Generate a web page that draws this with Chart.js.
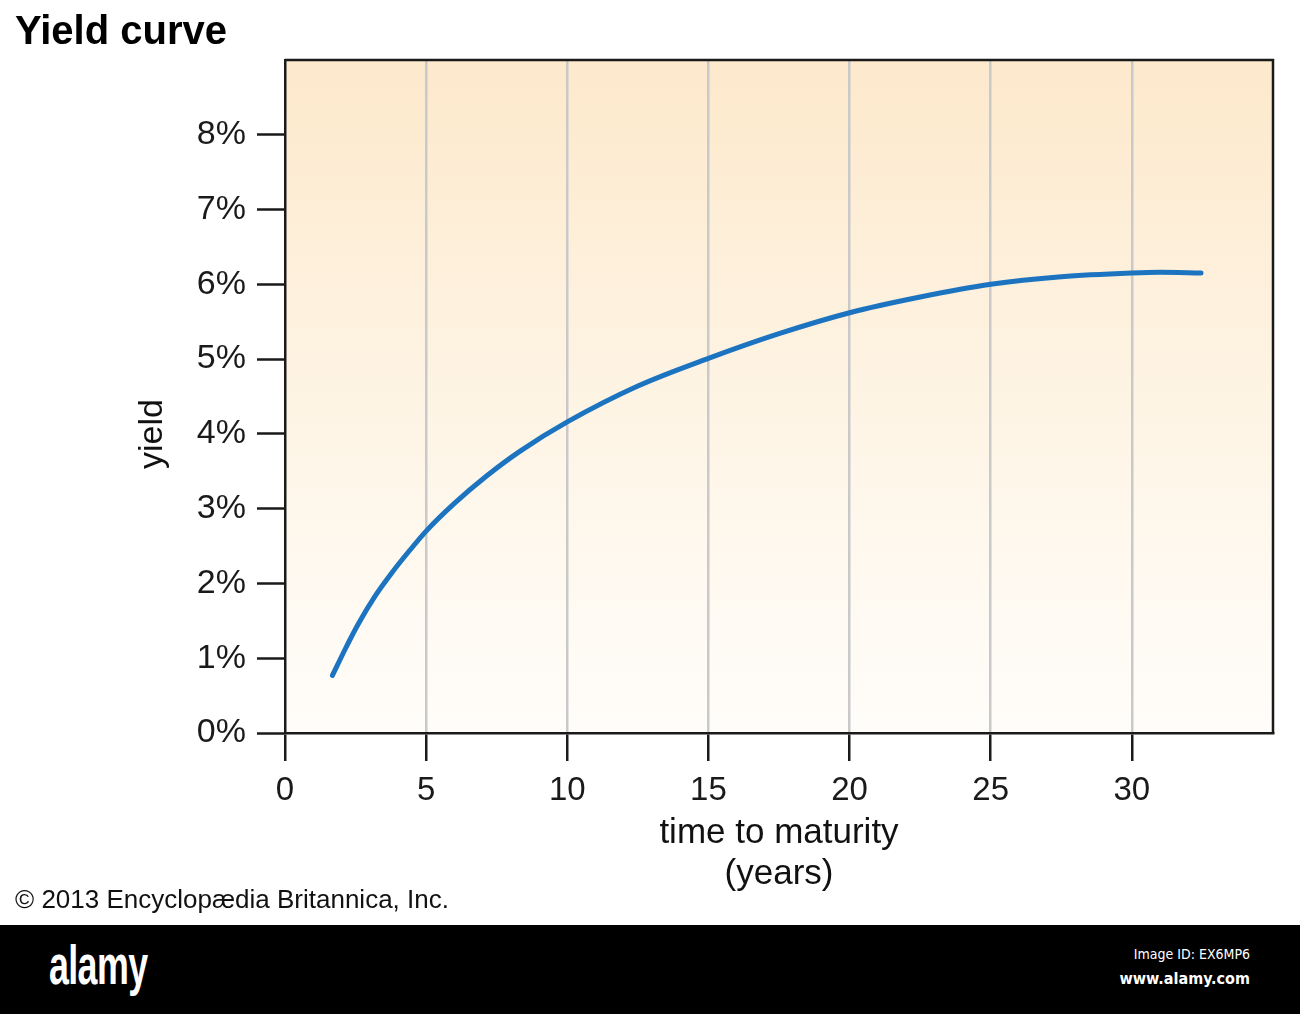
<!DOCTYPE html>
<html><head><meta charset="utf-8">
<script src="https://cdn.jsdelivr.net/npm/chart.js@4.4.1/dist/chart.umd.min.js"></script>
<style>
html,body{margin:0;padding:0;background:#fff;}
#wrap{position:relative;width:1300px;height:1014px;overflow:hidden;font-family:"Liberation Sans",Arial,sans-serif;}
#cbox{position:absolute;left:0;top:0;width:1300px;height:925px;}
#title{position:absolute;left:15px;top:10px;font-weight:bold;font-size:40px;line-height:1;color:#000;white-space:nowrap;}
#ytitle{position:absolute;left:100px;top:414px;width:100px;height:40px;line-height:40px;text-align:center;font-size:34px;color:#111;transform:rotate(-90deg);}
#copy{position:absolute;left:15px;top:886px;font-size:26px;line-height:1;color:#111;white-space:nowrap;}
#footer{position:absolute;left:0;top:925px;width:1300px;height:89px;background:#000;color:#fff;}
#logo{position:absolute;left:49px;top:12px;font-family:"Liberation Sans","DejaVu Sans",sans-serif;font-weight:bold;font-size:56px;line-height:1;transform:scaleX(0.64);transform-origin:left top;letter-spacing:-1px;}
#imgid{position:absolute;right:50px;top:22px;font-family:"DejaVu Sans Condensed",sans-serif;font-size:14px;line-height:1;}
#www{position:absolute;right:50px;top:46px;font-family:"DejaVu Sans Condensed",sans-serif;font-weight:bold;font-size:16px;line-height:1;}
</style></head>
<body>
<div id="wrap">
  <div id="cbox"><canvas id="c" width="1300" height="925"></canvas></div>
  <div id="title">Yield curve</div>
  <div id="ytitle">yield</div>
  <div id="copy">© 2013 Encyclopædia Britannica, Inc.</div>
  <div id="footer">
    <div id="logo">alamy</div>
    <div id="imgid">Image ID: EX6MP6</div>
    <div id="www">www.alamy.com</div>
  </div>
</div>
<script>
// ---- data ----
const maturityYears = [1.68, 2.13, 2.6, 3.19, 3.78, 4.37, 5, 6, 7.15, 8.33, 10, 12.5, 15, 17.5, 20, 22.5, 25, 27.5, 30, 31, 32.45];
const yieldPct      = [0.77, 1.12, 1.46, 1.83, 2.14, 2.42, 2.70, 3.07, 3.44, 3.77, 4.16, 4.64, 5.01, 5.34, 5.62, 5.83, 6.0, 6.1, 6.15, 6.16, 6.15];
const xTickValues = [0, 5, 10, 15, 20, 25, 30];
const yTickValues = [0, 1, 2, 3, 4, 5, 6, 7, 8];
const xAxisTitle = ['time to maturity', '(years)'];

Chart.defaults.font.family = "'Liberation Sans', Arial, sans-serif";

const bgPlugin = {
  id: 'bg',
  beforeDraw(chart) {
    const {ctx, chartArea: a} = chart;
    const g = ctx.createLinearGradient(0, a.top, 0, a.bottom);
    g.addColorStop(0, 'rgb(253,233,204)');
    g.addColorStop(0.5, 'rgb(254,244,228)');
    g.addColorStop(1, 'rgb(255,253,250)');
    ctx.save();
    ctx.fillStyle = g;
    ctx.fillRect(a.left, a.top, a.right - a.left, a.bottom - a.top);
    ctx.restore();
  },
  beforeDatasetsDraw(chart) {
    const {ctx, chartArea: a} = chart;
    ctx.save();
    ctx.strokeStyle = '#1a1a1a';
    ctx.lineWidth = 2.5;
    ctx.beginPath();
    ctx.moveTo(a.left, a.top);
    ctx.lineTo(a.right, a.top);
    ctx.lineTo(a.right, a.bottom);
    ctx.stroke();
    ctx.restore();
  }
};

new Chart(document.getElementById('c'), {
  type: 'line',
  data: {
    datasets: [{
      data: maturityYears.map((x, i) => ({x, y: yieldPct[i]})),
      borderColor: '#1c74c0',
      borderWidth: 5,
      borderCapStyle: 'round',
      pointRadius: 0,
      cubicInterpolationMode: 'monotone',
      fill: false
    }]
  },
  options: {
    responsive: false,
    animation: false,
    layout: {padding: {top: 60, right: 27, left: 0, bottom: 0}},
    plugins: {legend: {display: false}, tooltip: {enabled: false}},
    scales: {
      x: {
        type: 'linear', min: 0, max: 35,
        afterBuildTicks(s) { s.ticks = xTickValues.map(v => ({value: v})); },
        afterFit(s) { s.height = 192; },
        ticks: {font: {size: 33}, color: '#1a1a1a', padding: 10},
        grid: {
          color: ctx => (ctx.tick && ctx.tick.value === 0) ? 'rgba(0,0,0,0)' : '#c9c9c9',
          lineWidth: 2.5,
          tickColor: '#1a1a1a',
          tickLength: 28,
          tickWidth: 2.5
        },
        border: {display: true, color: '#1a1a1a', width: 2.5},
        title: {display: true, text: xAxisTitle, font: {size: 35, lineHeight: 1.17}, color: '#111', padding: {top: 0, bottom: 30}}
      },
      y: {
        min: 0, max: 9,
        afterBuildTicks(s) { s.ticks = yTickValues.map(v => ({value: v})); },
        afterFit(s) { s.width = 285; },
        ticks: {font: {size: 34}, color: '#1a1a1a', padding: 11, callback: v => v + '%'},
        grid: {
          drawOnChartArea: false,
          tickColor: '#1a1a1a',
          tickLength: 28,
          tickWidth: 2.5
        },
        border: {display: true, color: '#1a1a1a', width: 2.5}
      }
    }
  },
  plugins: [bgPlugin]
});
</script>
</body></html>
